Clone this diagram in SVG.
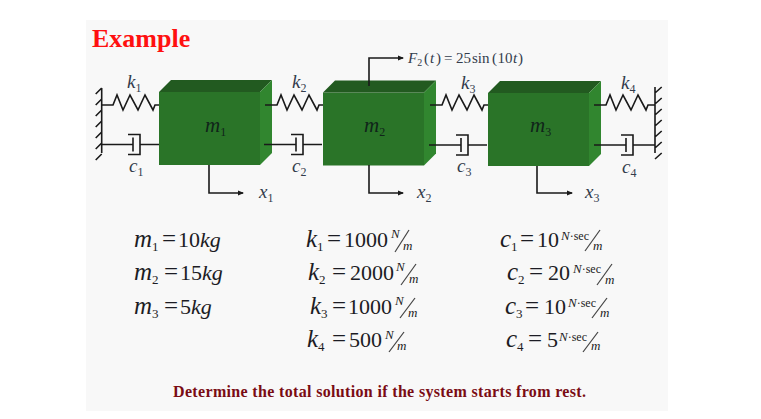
<svg xmlns="http://www.w3.org/2000/svg" width="761" height="419" viewBox="0 0 761 419">
<style>
text{font-family:"Liberation Serif","Times New Roman",serif;fill:#1c1c24}
.i{font-style:italic}
.lab{font-size:19px;font-style:italic;fill:#333c4c}
.ml{font-size:21px;font-style:italic;fill:#10241a}
.eq{font-size:22px}
.sy{font-size:25px;font-style:italic}
.op{font-size:25px}
.sub{font-size:13px;font-style:normal}
.s2{font-size:12px;font-style:normal}
.fr{font-size:13px;font-style:italic}
.sc{font-size:12px;font-style:normal}
.ln{fill:none;stroke:#1a1a1a;stroke-width:1.6}
.sl{stroke:#444;stroke-width:1.2}
.front{fill:#2a7428}.top{fill:#225a20}.side{fill:#31862f}
</style>
<defs>
<marker id="arr" viewBox="0 0 6 6" refX="5" refY="3" markerWidth="6" markerHeight="6" orient="auto" markerUnits="userSpaceOnUse"><path d="M0 0.500L6 3L0 5.500z" fill="#1a1a1a"/></marker>
<g id="mass"><rect class="front" x="0" y="12" width="101" height="73"/><path class="top" d="M0 12L12 0H113L101 12z"/><path class="side" d="M101 12L113 0V73L101 85z"/></g>
<path id="sp" class="ln" d="M0 0H12L16 -10L22 5L29 -10L37 5L44 -10L52 5L54 0H58"/>
<path id="da2" class="ln" d="M0 0H32M32 -7V7M27 -10H39V10H27M39 0H58"/>
</defs>
<rect x="0" y="0" width="761" height="419" fill="#fff"/>
<rect x="86" y="20" width="582" height="391" fill="#f8f8f8"/>
<text x="92" y="47" font-size="26" font-weight="bold" style="fill:#ff1010">Example</text>

<g id="m1"><use href="#mass" x="159" y="80"/><text class="ml" x="205" y="132">m<tspan class="s2" dy="4">1</tspan></text></g>
<g id="m2"><use href="#mass" x="323" y="80.500"/><text class="ml" x="364" y="132">m<tspan class="s2" dy="4">2</tspan></text></g>
<g id="m3"><use href="#mass" x="488" y="81"/><text class="ml" x="530" y="132">m<tspan class="s2" dy="4">3</tspan></text></g>

<g id="connectors">
<path class="ln" d="M101.700 88V153M95.700 94L101.700 88M95.700 105L101.700 99M95.700 116L101.700 110M95.700 127L101.700 121M95.700 138L101.700 132M95.700 149L101.700 143M95.700 160L101.700 154"/>
<path class="ln" d="M655 87V153M655 93L661.700 87M655 104L661.700 98M655 115L661.700 109M655 126L661.700 120M655 137L661.700 131M655 148L661.700 142M655 159L661.700 153"/>
<use href="#sp" x="101" y="105"/><use href="#sp" x="265" y="105"/><use href="#sp" x="430" y="105"/><use href="#sp" x="594" y="105"/>
<use href="#da2" x="101" y="144.500"/><use href="#da2" x="264" y="144.500"/><use href="#da2" x="429" y="145"/><use href="#da2" x="594" y="145"/>
<path class="ln" d="M652 105H655M652 145H655"/>
<path class="ln" d="M369 86V58H403" marker-end="url(#arr)"/>
<path class="ln" d="M209 165V193H243" marker-end="url(#arr)"/>
<path class="ln" d="M369 165V193H403" marker-end="url(#arr)"/>
<path class="ln" d="M537 166V193H572" marker-end="url(#arr)"/>
</g>

<g id="labels">
<text class="lab" x="127" y="88">k<tspan class="s2" dy="4">1</tspan></text>
<text class="lab" x="292" y="88">k<tspan class="s2" dy="4">2</tspan></text>
<text class="lab" x="461" y="89">k<tspan class="s2" dy="4">3</tspan></text>
<text class="lab" x="621" y="89">k<tspan class="s2" dy="4">4</tspan></text>
<text class="lab" x="129" y="172">c<tspan class="s2" dy="4">1</tspan></text>
<text class="lab" x="292" y="172">c<tspan class="s2" dy="4">2</tspan></text>
<text class="lab" x="457" y="172">c<tspan class="s2" dy="4">3</tspan></text>
<text class="lab" x="622" y="173">c<tspan class="s2" dy="4">4</tspan></text>
<text class="lab" x="259" y="198">x<tspan class="s2" dy="4">1</tspan></text>
<text class="lab" x="417" y="198">x<tspan class="s2" dy="4">2</tspan></text>
<text class="lab" x="585" y="198">x<tspan class="s2" dy="4">3</tspan></text>
<text y="63" font-size="15" style="fill:#333c4c"><tspan class="i" x="408">F</tspan><tspan font-size="10" dy="3">2</tspan><tspan x="424" dy="-3">(</tspan><tspan class="i" x="430">t</tspan><tspan x="436">)</tspan><tspan x="444">=</tspan><tspan x="456">25</tspan><tspan x="472">sin</tspan><tspan x="492">(</tspan><tspan x="497.500">10</tspan><tspan class="i" x="513">t</tspan><tspan x="518">)</tspan></text>
</g>

<g id="masses-values">
<text class="eq" y="247"><tspan class="sy" x="134">m</tspan><tspan class="sub" dy="4">1</tspan><tspan class="op" x="162" dy="-4">=</tspan><tspan x="178">10</tspan><tspan class="i">kg</tspan></text>
<text class="eq" y="280"><tspan class="sy" x="134">m</tspan><tspan class="sub" dy="4">2</tspan><tspan class="op" x="164" dy="-4">=</tspan><tspan x="180">15</tspan><tspan class="i">kg</tspan></text>
<text class="eq" y="314"><tspan class="sy" x="134">m</tspan><tspan class="sub" dy="4">3</tspan><tspan class="op" x="164" dy="-4">=</tspan><tspan x="180">5</tspan><tspan class="i">kg</tspan></text>
</g>

<g id="stiffness-values">
<text class="eq" y="247"><tspan class="sy" x="306">k</tspan><tspan class="sub" dy="4">1</tspan><tspan class="op" x="327" dy="-4">=</tspan><tspan x="344">1000</tspan></text>
<text class="fr" x="391" y="238">N</text><line class="sl" x1="395" y1="252" x2="409" y2="230"/><text class="fr" x="403" y="250">m</text>
<text class="eq" y="280"><tspan class="sy" x="308">k</tspan><tspan class="sub" dy="4">2</tspan><tspan class="op" x="332" dy="-4">=</tspan><tspan x="350">2000</tspan></text>
<text class="fr" x="396" y="271">N</text><line class="sl" x1="401" y1="285" x2="416" y2="264"/><text class="fr" x="409" y="283">m</text>
<text class="eq" y="314"><tspan class="sy" x="310">k</tspan><tspan class="sub" dy="4">3</tspan><tspan class="op" x="332" dy="-4">=</tspan><tspan x="348">1000</tspan></text>
<text class="fr" x="395" y="305">N</text><line class="sl" x1="400" y1="318" x2="415" y2="298"/><text class="fr" x="408" y="317">m</text>
<text class="eq" y="347"><tspan class="sy" x="307">k</tspan><tspan class="sub" dy="4">4</tspan><tspan class="op" x="332" dy="-4">=</tspan><tspan x="349">500</tspan></text>
<text class="fr" x="385" y="339">N</text><line class="sl" x1="389" y1="352" x2="404" y2="332"/><text class="fr" x="397" y="350">m</text>
</g>

<g id="damping-values">
<text class="eq" y="247"><tspan class="sy" x="500">c</tspan><tspan class="sub" dy="4">1</tspan><tspan class="op" x="520" dy="-4">=</tspan><tspan x="537">10</tspan></text>
<text class="fr" x="561" y="240">N<tspan class="sc">·sec</tspan></text><line class="sl" x1="585" y1="251" x2="600" y2="230"/><text class="fr" x="593" y="250">m</text>
<text class="eq" y="280"><tspan class="sy" x="507">c</tspan><tspan class="sub" dy="4">2</tspan><tspan class="op" x="529" dy="-4">=</tspan><tspan x="548">20</tspan></text>
<text class="fr" x="573" y="273">N<tspan class="sc">·sec</tspan></text><line class="sl" x1="597" y1="285" x2="612" y2="264"/><text class="fr" x="605" y="284">m</text>
<text class="eq" y="314"><tspan class="sy" x="505">c</tspan><tspan class="sub" dy="4">3</tspan><tspan class="op" x="525" dy="-4">=</tspan><tspan x="544">10</tspan></text>
<text class="fr" x="568" y="307">N<tspan class="sc">·sec</tspan></text><line class="sl" x1="592" y1="318" x2="607" y2="298"/><text class="fr" x="600" y="317">m</text>
<text class="eq" y="347"><tspan class="sy" x="506">c</tspan><tspan class="sub" dy="4">4</tspan><tspan class="op" x="528" dy="-4">=</tspan><tspan x="547">5</tspan></text>
<text class="fr" x="559" y="341">N<tspan class="sc">·sec</tspan></text><line class="sl" x1="583" y1="352" x2="598" y2="332"/><text class="fr" x="591" y="350">m</text>
</g>

<text x="173" y="397" font-size="16" font-weight="bold" textLength="413" style="fill:#7a0c14">Determine the total solution if the system starts from rest.</text>
</svg>
